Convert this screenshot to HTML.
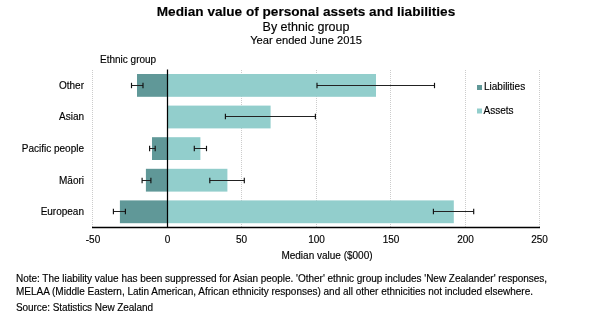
<!DOCTYPE html>
<html><head><meta charset="utf-8"><style>
html,body{margin:0;padding:0;background:#fff;width:600px;height:319px;overflow:hidden}
svg{display:block;will-change:transform}
text{font-family:"Liberation Sans",sans-serif;fill:#000;stroke:#000;stroke-width:0.15px}
.t10{font-size:10px}
.title{font-size:13.6px;font-weight:bold}
.sub{font-size:12.5px}
.sub2{font-size:11.15px}
</style></head><body>
<svg width="600" height="319" viewBox="0 0 600 319">
<line x1="92.5" y1="70" x2="92.5" y2="227" stroke="#cccccc" stroke-width="1" stroke-dasharray="1,1"/>
<line x1="241.5" y1="70" x2="241.5" y2="227" stroke="#cccccc" stroke-width="1" stroke-dasharray="1,1"/>
<line x1="316.5" y1="70" x2="316.5" y2="227" stroke="#cccccc" stroke-width="1" stroke-dasharray="1,1"/>
<line x1="390.5" y1="70" x2="390.5" y2="227" stroke="#cccccc" stroke-width="1" stroke-dasharray="1,1"/>
<line x1="465.5" y1="70" x2="465.5" y2="227" stroke="#cccccc" stroke-width="1" stroke-dasharray="1,1"/>
<line x1="539.5" y1="70" x2="539.5" y2="227" stroke="#cccccc" stroke-width="1" stroke-dasharray="1,1"/>
<rect x="137" y="74.00" width="30.50" height="22.8" fill="#609898"/>
<rect x="167.5" y="74.00" width="208.50" height="22.8" fill="#92cecc"/>
<line x1="131.5" y1="85.50" x2="143" y2="85.50" stroke="#222" stroke-width="1.05"/>
<line x1="131.5" y1="82.80" x2="131.5" y2="88.20" stroke="#111" stroke-width="1.15"/>
<line x1="143" y1="82.80" x2="143" y2="88.20" stroke="#111" stroke-width="1.15"/>
<line x1="317" y1="85.50" x2="434.5" y2="85.50" stroke="#222" stroke-width="1.05"/>
<line x1="317" y1="82.80" x2="317" y2="88.20" stroke="#111" stroke-width="1.15"/>
<line x1="434.5" y1="82.80" x2="434.5" y2="88.20" stroke="#111" stroke-width="1.15"/>
<text x="84" y="88.7" text-anchor="end" class="t10">Other</text>
<rect x="167.5" y="105.60" width="103.10" height="22.8" fill="#92cecc"/>
<line x1="225.4" y1="116.50" x2="315.4" y2="116.50" stroke="#222" stroke-width="1.05"/>
<line x1="225.4" y1="113.80" x2="225.4" y2="119.20" stroke="#111" stroke-width="1.15"/>
<line x1="315.4" y1="113.80" x2="315.4" y2="119.20" stroke="#111" stroke-width="1.15"/>
<text x="84" y="120" text-anchor="end" class="t10">Asian</text>
<rect x="152" y="137.20" width="15.50" height="22.8" fill="#609898"/>
<rect x="167.5" y="137.20" width="32.90" height="22.8" fill="#92cecc"/>
<line x1="149.6" y1="148.50" x2="155.2" y2="148.50" stroke="#222" stroke-width="1.05"/>
<line x1="149.6" y1="145.80" x2="149.6" y2="151.20" stroke="#111" stroke-width="1.15"/>
<line x1="155.2" y1="145.80" x2="155.2" y2="151.20" stroke="#111" stroke-width="1.15"/>
<line x1="194.3" y1="148.50" x2="206.5" y2="148.50" stroke="#222" stroke-width="1.05"/>
<line x1="194.3" y1="145.80" x2="194.3" y2="151.20" stroke="#111" stroke-width="1.15"/>
<line x1="206.5" y1="145.80" x2="206.5" y2="151.20" stroke="#111" stroke-width="1.15"/>
<text x="84" y="152" text-anchor="end" class="t10">Pacific people</text>
<rect x="145.9" y="168.80" width="21.60" height="22.8" fill="#609898"/>
<rect x="167.5" y="168.80" width="59.90" height="22.8" fill="#92cecc"/>
<line x1="142.1" y1="180.50" x2="150.9" y2="180.50" stroke="#222" stroke-width="1.05"/>
<line x1="142.1" y1="177.80" x2="142.1" y2="183.20" stroke="#111" stroke-width="1.15"/>
<line x1="150.9" y1="177.80" x2="150.9" y2="183.20" stroke="#111" stroke-width="1.15"/>
<line x1="209.8" y1="180.50" x2="244.3" y2="180.50" stroke="#222" stroke-width="1.05"/>
<line x1="209.8" y1="177.80" x2="209.8" y2="183.20" stroke="#111" stroke-width="1.15"/>
<line x1="244.3" y1="177.80" x2="244.3" y2="183.20" stroke="#111" stroke-width="1.15"/>
<text x="84" y="183.5" text-anchor="end" class="t10">Māori</text>
<rect x="119.9" y="200.40" width="47.60" height="22.8" fill="#609898"/>
<rect x="167.5" y="200.40" width="286.30" height="22.8" fill="#92cecc"/>
<line x1="113.4" y1="211.50" x2="125.4" y2="211.50" stroke="#222" stroke-width="1.05"/>
<line x1="113.4" y1="208.80" x2="113.4" y2="214.20" stroke="#111" stroke-width="1.15"/>
<line x1="125.4" y1="208.80" x2="125.4" y2="214.20" stroke="#111" stroke-width="1.15"/>
<line x1="433.4" y1="211.50" x2="473.7" y2="211.50" stroke="#222" stroke-width="1.05"/>
<line x1="433.4" y1="208.80" x2="433.4" y2="214.20" stroke="#111" stroke-width="1.15"/>
<line x1="473.7" y1="208.80" x2="473.7" y2="214.20" stroke="#111" stroke-width="1.15"/>
<text x="84" y="215" text-anchor="end" class="t10">European</text>
<line x1="167.5" y1="69.5" x2="167.5" y2="228" stroke="#000" stroke-width="1.25"/>
<line x1="92" y1="227.5" x2="540" y2="227.5" stroke="#000" stroke-width="1.6"/>
<text x="93" y="243" text-anchor="middle" class="t10">-50</text>
<text x="167.5" y="243" text-anchor="middle" class="t10">0</text>
<text x="241.5" y="243" text-anchor="middle" class="t10">50</text>
<text x="316.5" y="243" text-anchor="middle" class="t10">100</text>
<text x="391" y="243" text-anchor="middle" class="t10">150</text>
<text x="465.5" y="243" text-anchor="middle" class="t10">200</text>
<text x="539.5" y="243" text-anchor="middle" class="t10">250</text>
<rect x="477" y="85" width="5" height="5" fill="#609898"/>
<rect x="477" y="108.5" width="5" height="5" fill="#92cecc"/>
<text x="484" y="90.3" class="t10">Liabilities</text>
<text x="483.5" y="113.7" class="t10">Assets</text>
<text x="306" y="15.5" text-anchor="middle" class="title">Median value of personal assets and liabilities</text>
<text x="306" y="30.6" text-anchor="middle" class="sub">By ethnic group</text>
<text x="306" y="43.5" text-anchor="middle" class="sub2">Year ended June 2015</text>
<text x="100" y="63.3" class="t10">Ethnic group</text>
<text x="327" y="259.2" text-anchor="middle" class="t10">Median value ($000)</text>
<text x="16" y="282.2" class="t10" textLength="531" lengthAdjust="spacing">Note: The liability value has been suppressed for Asian people. 'Other' ethnic group includes 'New Zealander' responses,</text>
<text x="16" y="294.8" class="t10" textLength="517" lengthAdjust="spacing">MELAA (Middle Eastern, Latin American, African ethnicity responses) and all other ethnicities not included elsewhere.</text>
<text x="16" y="311" class="t10" textLength="137" lengthAdjust="spacing">Source: Statistics New Zealand</text>
</svg>
</body></html>
